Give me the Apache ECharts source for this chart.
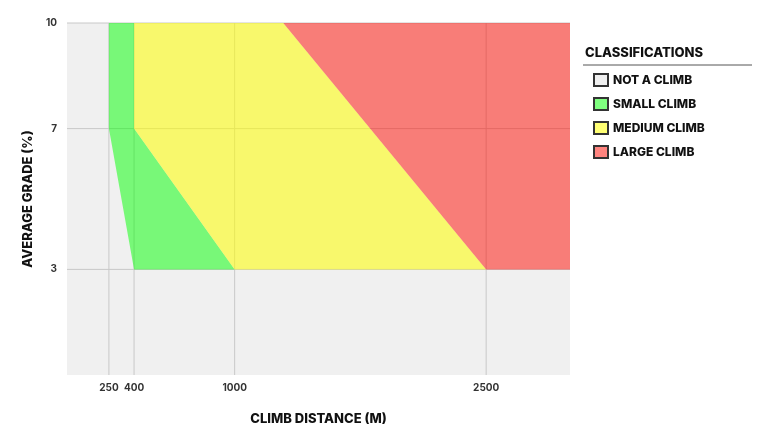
<!DOCTYPE html>
<html><head><meta charset="utf-8">
<script src="https://cdn.jsdelivr.net/npm/echarts@6/dist/echarts.min.js"></script>
<style>html,body{margin:0;padding:0;background:#fff}#c{width:768px;height:432px}</style>
</head><body><div id="c"></div>
<script>
const xTicks = [250, 400, 1000, 2500];
const yTicks = [3, 7, 10];
const notAClimb = [[0,0],[3000,0],[3000,10],[0,10]];
const smallClimb = [[250,10],[400,10],[400,7],[1000,3],[400,3],[250,7]];
const mediumClimb = [[400,10],[1290,10],[2500,3],[1000,3],[400,7]];
const largeClimb = [[1290,10],[3000,10],[3000,3],[2500,3]];
const F = 'Inter, "Noto Sans", sans-serif';
function poly(name, pts, color, z){
  return {name, type:'custom', z, data:[0], itemStyle:{color, borderColor:'#333', borderWidth:1},
    renderItem:(p,api)=>({type:'polygon', shape:{points:pts.map(q=>api.coord(q))}, style:{fill:color}})};
}
const gridSeries = {type:'custom', z:2, data:[0], silent:true,
  renderItem:(p,api)=>({type:'group', children:[
    ...xTicks.map(x=>({type:'line', shape:{x1:api.coord([x,0])[0],y1:api.coord([x,0])[1],x2:api.coord([x,10])[0],y2:api.coord([x,10])[1]}, style:{stroke:'#c8c8c8',lineWidth:1}})),
    ...yTicks.map(y=>({type:'line', shape:{x1:api.coord([0,y])[0],y1:api.coord([0,y])[1],x2:api.coord([3000,y])[0],y2:api.coord([3000,y])[1]}, style:{stroke:'#c8c8c8',lineWidth:1}}))
  ]})};
const chart = echarts.init(document.getElementById('c'));
chart.setOption({
  animation:false,
  grid:{left:67, right:198, top:23, bottom:57},
  xAxis:{type:'value', min:0, max:3000, name:'CLIMB DISTANCE (M)', nameLocation:'middle', nameGap:38,
    nameTextStyle:{fontFamily:F, fontWeight:800, fontSize:13, color:'#111'},
    axisLine:{show:false}, axisTick:{show:false}, splitLine:{show:false},
    axisLabel:{customValues:xTicks, formatter:v=>String(v), fontFamily:F, fontWeight:'bold', fontSize:10, color:'#333', margin:8}},
  yAxis:{type:'value', min:0, max:10, name:'AVERAGE GRADE (%)', nameLocation:'middle', nameGap:30,
    nameTextStyle:{fontFamily:F, fontWeight:800, fontSize:13, color:'#111'},
    axisLine:{show:false}, axisTick:{show:false}, splitLine:{show:false},
    axisLabel:{customValues:yTicks, formatter:v=>String(v), fontFamily:F, fontWeight:'bold', fontSize:10, color:'#333', margin:10}},
  legend:{orient:'vertical', left:588, top:68, itemWidth:14, itemHeight:12, itemGap:10, icon:'rect',
    textStyle:{fontFamily:F, fontWeight:800, fontSize:12, color:'#111'},
    data:['NOT A CLIMB','SMALL CLIMB','MEDIUM CLIMB','LARGE CLIMB']},
  graphic:[
    {type:'text', left:585, top:47, style:{text:'CLASSIFICATIONS', font:'800 13px '+F, fill:'#111'}},
    {type:'line', shape:{x1:583,y1:65,x2:752,y2:65}, style:{stroke:'#555', lineWidth:1}}
  ],
  series:[
    poly('NOT A CLIMB', notAClimb, '#f0f0f0', 1),
    gridSeries,
    poly('SMALL CLIMB', smallClimb, 'rgba(0,255,0,0.5)', 3),
    poly('MEDIUM CLIMB', mediumClimb, 'rgba(255,255,0,0.55)', 3),
    poly('LARGE CLIMB', largeClimb, 'rgba(255,10,0,0.5)', 3)
  ]
});
</script></body></html>
